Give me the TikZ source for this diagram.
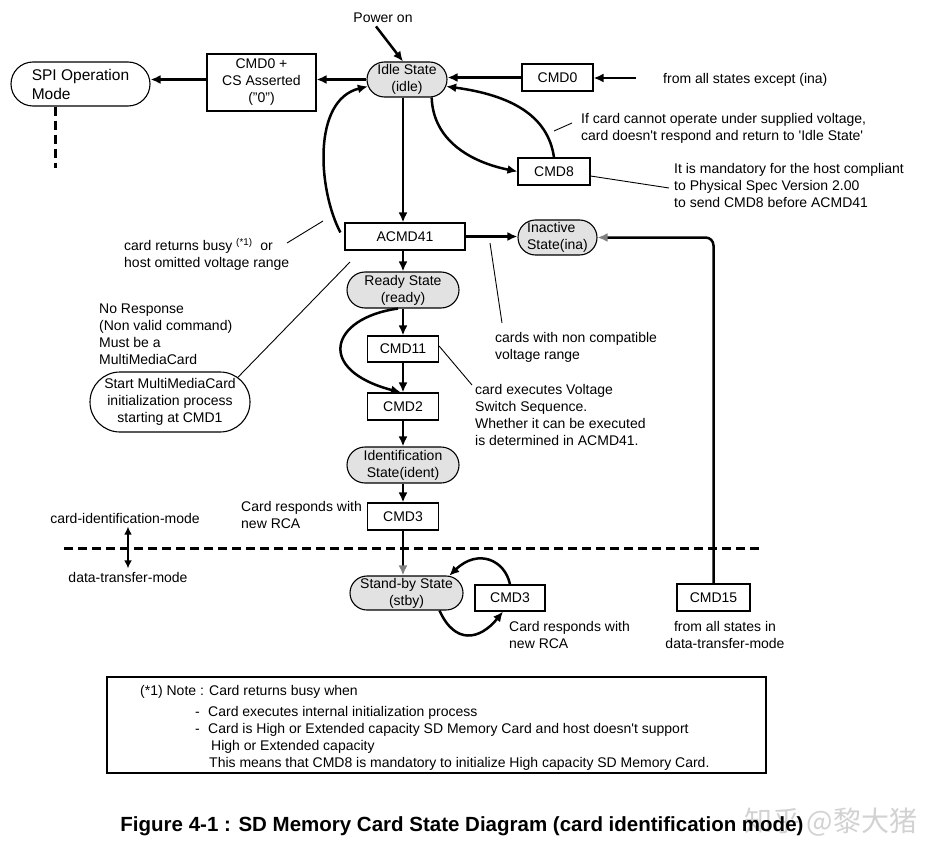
\documentclass[tikz,border=0pt]{standalone}
\usepackage{fontspec}
\setmainfont{Liberation Sans}
\newfontfamily\cjkfont{Noto Sans CJK SC}
\usetikzlibrary{arrows.meta,shapes.misc}
\definecolor{stategray}{RGB}{226,226,226}
\begin{document}
\begin{tikzpicture}[x=1pt,y=-1pt,
  font=\fontsize{14}{17}\selectfont,
  box/.style={draw,line width=1.1pt,inner sep=0pt,align=center},
  state/.style={draw,line width=1.1pt,rounded rectangle,fill=stategray,inner sep=0pt,align=center},
  plainstate/.style={draw,line width=1.1pt,rounded rectangle,inner sep=0pt},
  arr/.style={line width=2.5pt,-{Latex[length=10pt,width=9pt]}},
  garr/.style={line width=2.5pt,-{Latex[length=10pt,width=9pt,color=gray]}},
  dbl/.style={line width=2.2pt,{Latex[length=8pt,width=8pt]}-{Latex[length=8pt,width=8pt]}},
  thinline/.style={line width=0.9pt},
  dashline/.style={line width=3pt,dash pattern=on 9pt off 5pt},
  txt/.style={inner sep=0pt,align=left}]
\useasboundingbox (0,0) rectangle (934,856);

% ---------- nodes ----------
\node (pwr) at (383,18) {Power on};
\node[state,minimum width=80,minimum height=35] (idle) at (407,79.5) {Idle State\\(idle)};
\node[plainstate,minimum width=139,minimum height=44,align=left,font=\fontsize{15.5}{19}\selectfont] (spi) at (80.5,84) {SPI Operation\\Mode};
\node[box,minimum width=109,minimum height=57] (cs) at (261.5,82.5) {CMD0 +\\CS Asserted\\("0")};
\node[box,minimum width=71,minimum height=27] (cmd0) at (557.5,77.5) {CMD0};
\node[txt,anchor=west] (allst) at (663,80) {from all states except (ina)};
\coordinate (allin) at (636,78);
\coordinate (spiend) at (55,168);
\node[box,minimum width=72,minimum height=27] (cmd8) at (554,171.5) {CMD8};
\node[txt,anchor=west] (ifcard) at (581,128) {If card cannot operate under supplied voltage,\\card doesn\textquotesingle t respond and return to \textquotesingle Idle State\textquotesingle};
\coordinate (tickA) at (554,131);
\coordinate (tickB) at (572,123);
\node[txt,anchor=west] (mand) at (674,185) {It is mandatory for the host compliant\\to Physical Spec Version 2.00\\to send CMD8 before ACMD41};
\node[box,minimum width=120,minimum height=27] (acmd) at (405,236.5) {ACMD41};
\node[state,minimum width=79,minimum height=35,align=left] (ina) at (557.5,237.5) {Inactive\\State(ina)};
\node[txt,anchor=west] (busy) at (124,254.5) {card returns busy \textsuperscript{(*1)}\ \ or\\host omitted voltage range};
\coordinate (busyA) at (287,243);
\coordinate (busyB) at (323,221);
\node[txt,anchor=west] (noncomp) at (495,347.5) {cards with non compatible\\voltage range};
\coordinate (ncA) at (490,243);
\coordinate (ncB) at (502,323);
\node[state,minimum width=112,minimum height=36] (ready) at (403,290) {Ready State\\(ready)};
\node[txt,anchor=west] (noresp) at (99,334.5) {No Response\\(Non valid command)\\Must be a\\MultiMediaCard};
\node[plainstate,minimum width=160,minimum height=60,align=center] (mmc) at (170,402) {Start MultiMediaCard\\initialization process\\starting at CMD1};
\coordinate (mmcA) at (350,262);
\node[box,minimum width=71,minimum height=26] (cmd11) at (403,349) {CMD11};
\node[box,minimum width=71,minimum height=27] (cmd2) at (403,406.5) {CMD2};
\node[txt,anchor=west] (vss) at (475,415) {card executes Voltage\\Switch Sequence.\\Whether it can be executed\\is determined in ACMD41.};
\coordinate (vssA) at (472,385);
\node[state,minimum width=112,minimum height=36] (ident) at (403,465) {Identification\\State(ident)};
\node[box,minimum width=71,minimum height=27] (cmd3) at (403,516.5) {CMD3};
\node[txt,anchor=west] (rca1) at (241,515) {Card responds with\\new RCA};
\node (cim) at (125,518) {card-identification-mode};
\node (dtm) at (128,577) {data-transfer-mode};
\coordinate (dl) at (64,548);
\coordinate (dr) at (763,548);
\node[state,minimum width=113,minimum height=34] (stby) at (406.5,593) {Stand-by State\\(stby)};
\node[box,minimum width=70,minimum height=26] (cmd3b) at (510,598) {CMD3};
\node[txt,anchor=west] (rca2) at (509,634.5) {Card responds with\\new RCA};
\node[box,minimum width=73,minimum height=27] (cmd15) at (713.5,597.5) {CMD15};
\node[txt,align=center] (allds) at (725,635) {from all states in\\data-transfer-mode};

% note box
\node[draw,line width=1.4pt,minimum width=659,minimum height=96,inner sep=0pt] (note) at (436.5,725) {};
\node[txt,anchor=base west] (n1) at (140,695) {(*1) Note : Card returns busy when};
\node[txt,anchor=base west] (d1) at (195,716) {-};
\node[txt,anchor=base west] (n2) at (208,716) {Card executes internal initialization process};
\node[txt,anchor=base west] (d2) at (195,733) {-};
\node[txt,anchor=base west] (n3) at (208,733) {Card is High or Extended capacity SD Memory Card and host doesn\textquotesingle t support};
\node[txt,anchor=base west] (n4) at (211,750) {High or Extended capacity};
\node[txt,anchor=base west] (n5) at (209,767) {This means that CMD8 is mandatory to initialize High capacity SD Memory Card.};

\node[font=\cjkfont\fontsize{28}{32}\selectfont,text=gray!35,inner sep=0pt] (wm) at (831,822) {知乎 @黎大猪};
\node[font=\bfseries\fontsize{20.5}{24}\selectfont] (cap) at (462,826) {Figure 4-1 : SD Memory Card State Diagram (card identification mode)};

% ---------- connectors ----------
\draw[arr] ([xshift=-7pt]pwr.south) -- ([xshift=-4pt]idle.north);
\draw[arr] (idle.west) -- (idle.west -| cs.east);
\draw[arr] (cs.west |- idle.west) -- (spi.east |- idle.west);
\draw[dashline] (spi.south -| spiend) -- (spiend);
\draw[arr] (allin) -- (allin -| cmd0.east);
\draw[arr] (cmd0.west) -- (cmd0.west -| idle.east);
\draw[arr] (idle.-36) .. controls (433,140) and (470,162) .. (cmd8.west);
\draw[arr] (cmd8.north) .. controls (548,115) and (510,95) .. (idle.-10);
\draw[thinline] (tickA) -- (tickB);
\draw[thinline] ([yshift=-4.5pt]cmd8.east) -- ([xshift=-5pt,yshift=-3pt]mand.west);
\draw[arr] (idle.south -| ready) -- (acmd.north -| ready);
\draw[arr] ([xshift=-4pt,yshift=4pt]acmd.west) .. controls (318,190) and (312,100) .. (idle.190);
\draw[thinline] (busyA) -- (busyB);
\draw[arr] (acmd.east) -- (acmd.east -| ina.west);
\draw[thinline] (ncA) -- (ncB);
\draw[garr,rounded corners=8pt] (cmd15.north) |- (ina.east);
\draw[arr] (acmd.south -| ready) -- (ready.north);
\draw[thinline] (mmcA) -- (mmc.20);
\draw[arr] (ready.south) -- (cmd11.north);
\draw[arr] ([xshift=-5pt]ready.south) .. controls (330,318) and (315,370) .. ([xshift=-2pt]cmd2.north);
\draw[arr] (cmd11.south) -- (cmd2.north);
\draw[thinline] ([yshift=3pt]cmd11.east) -- (vssA);
\draw[arr] (cmd2.south) -- (ident.north);
\draw[arr] (ident.south) -- (cmd3.north);
\draw[garr] (cmd3.south) -- (cmd3.south |- stby.north);
\draw[dashline] (dl) -- (dr);
\draw[dbl] (cim.south -| dtm.north) -- (dtm.north);
\draw[arr] (cmd3b.north) .. controls (505,560) and (478,548) .. (stby.22);
\draw[arr] (stby.-28) .. controls (455,645) and (480,640) .. ([xshift=-7pt]cmd3b.south);
\end{tikzpicture}
\end{document}
